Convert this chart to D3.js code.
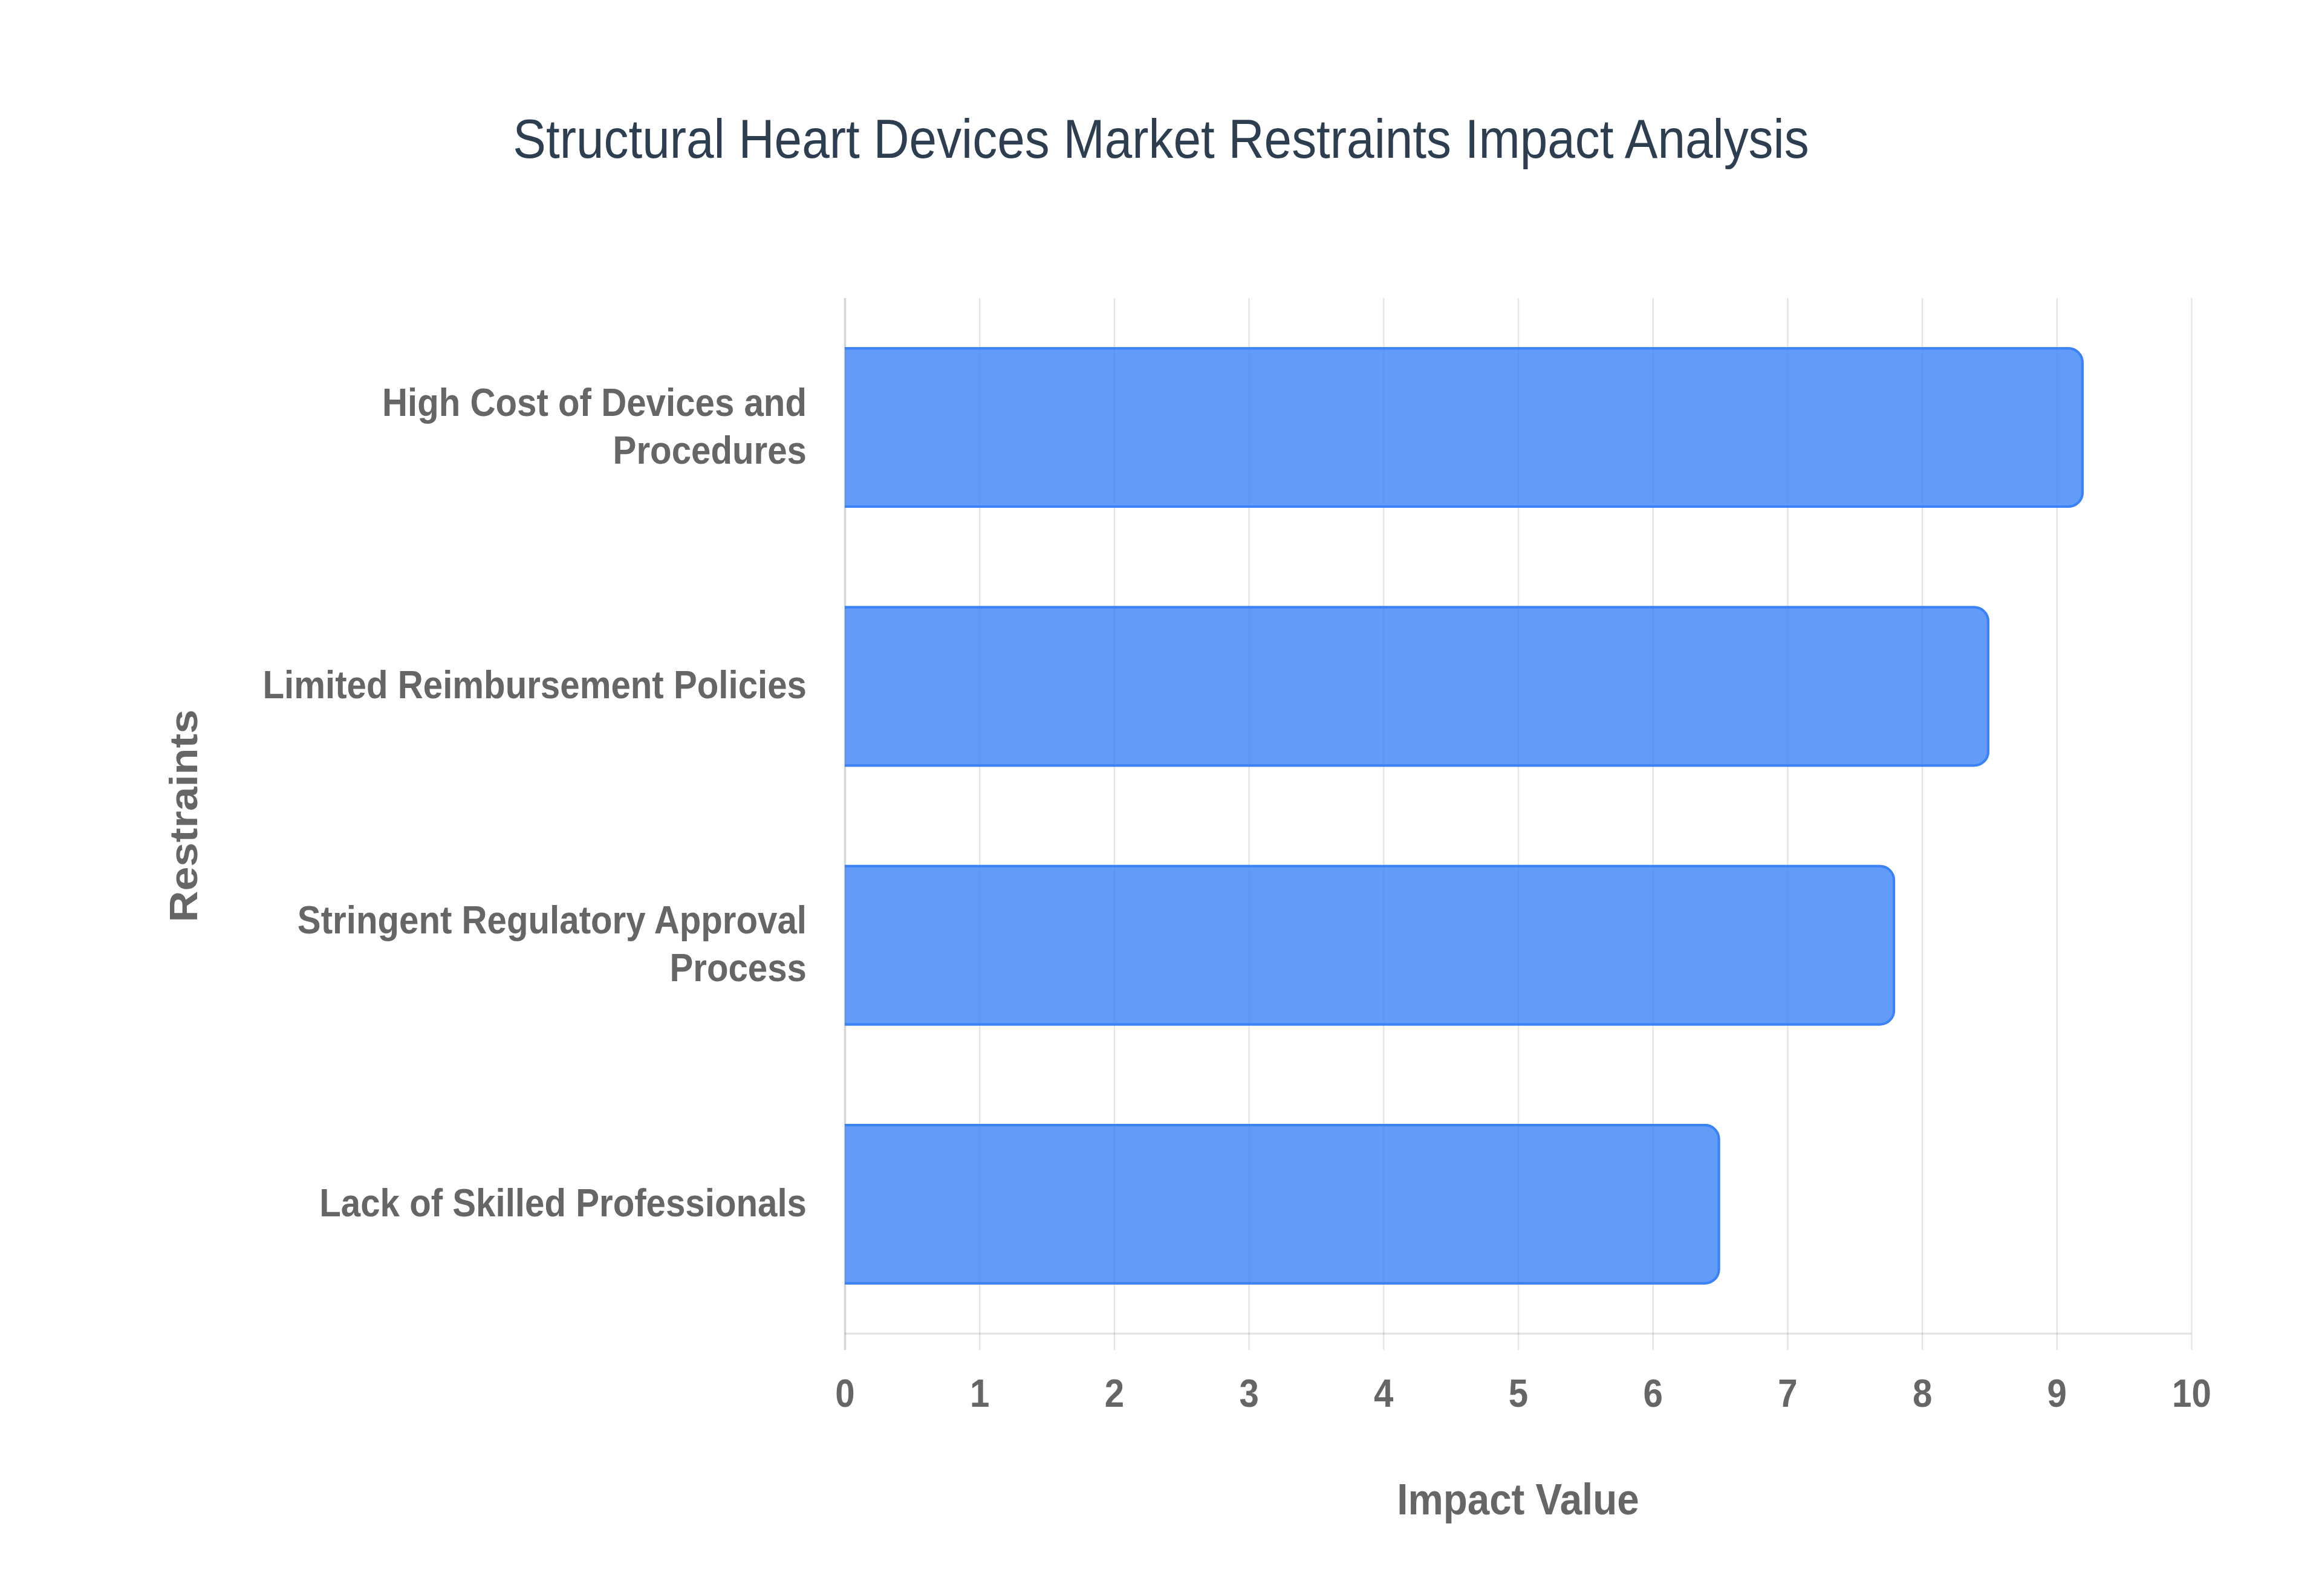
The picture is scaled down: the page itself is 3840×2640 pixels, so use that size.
<!DOCTYPE html>
<html>
<head>
<meta charset="utf-8">
<script src="https://cdn.jsdelivr.net/npm/d3@7"></script>
<style>
  html, body { margin: 0; padding: 0; background: #ffffff; }
  svg { display: block; }
</style>
</head>
<body>
<div id="chart"></div>
<script>
// data
const categories = [
  'High Cost of Devices and Procedures',
  'Limited Reimbursement Policies',
  'Stringent Regulatory Approval Process',
  'Lack of Skilled Professionals'
];
const labelLines = [
  ['High Cost of Devices and', 'Procedures'],
  ['Limited Reimbursement Policies'],
  ['Stringent Regulatory Approval', 'Process'],
  ['Lack of Skilled Professionals']
];
const impactValues = [9.2, 8.5, 7.8, 6.5];
const xTicks = [0, 1, 2, 3, 4, 5, 6, 7, 8, 9, 10];

const chartTitle = 'Structural Heart Devices Market Restraints Impact Analysis';
const xTitle = 'Impact Value';
const yTitle = 'Restraints';

(function () {
  const width = 3840, height = 2640;
  const margin = { top: 493, right: 216, bottom: 434, left: 1397 };
  const plotW = width - margin.left - margin.right,
      plotH = height - margin.top - margin.bottom;
  const squeeze = 0.91;   // the reference text is a little narrow
  const tickLen = 27;
  const font = '"Liberation Sans", Arial, Helvetica, sans-serif';
  const labelColor = '#666666';

  const svg = d3.select('#chart').append('svg')
      .attr('width', width)
      .attr('height', height);
  svg.append('rect').attr('width', width).attr('height', height).attr('fill', '#ffffff');

  const x = d3.scaleLinear().domain([0, 10]).range([0, plotW]);
  const y = d3.scaleBand().domain(categories).range([0, plotH])
      .paddingInner(0.38).paddingOuter(0.19);

  const g = svg.append('g').attr('transform', `translate(${margin.left},${margin.top})`);

  // vertical grid lines (run a bit below the axis like tick marks)
  const grid = g.append('g')
      .attr('transform', `translate(0,${plotH + tickLen})`)
      .call(d3.axisBottom(x).tickValues(xTicks).tickSize(-(plotH + tickLen)).tickSizeOuter(0).tickFormat(''));
  grid.select('.domain').remove();
  grid.selectAll('.tick line')
      .attr('stroke', d => d === 0 ? 'rgba(0,0,0,0.16)' : 'rgba(0,0,0,0.1)')
      .attr('stroke-width', d => d === 0 ? 3.5 : 2.5);

  // bottom axis border
  g.append('line')
      .attr('x1', 0).attr('x2', plotW)
      .attr('y1', plotH).attr('y2', plotH)
      .attr('stroke', 'rgba(0,0,0,0.1)')
      .attr('stroke-width', 3.5);

  // bars: square at the start, rounded on the end, border skipped at the start
  const radius = 25, bw = 4;
  function barShape(x1, y0, y1, r, closed) {
    const p = d3.path();
    p.moveTo(0, y0);
    p.lineTo(x1 - r, y0);
    p.arcTo(x1, y0, x1, y0 + r, r);
    p.lineTo(x1, y1 - r);
    p.arcTo(x1, y1, x1 - r, y1, r);
    p.lineTo(0, y1);
    if (closed) p.closePath();
    return p.toString();
  }

  const bars = g.selectAll('g.bar')
      .data(categories.map((c, i) => ({ cat: c, value: impactValues[i] })))
      .enter().append('g').attr('class', 'bar');

  bars.append('path')
      .attr('d', d => barShape(x(d.value), y(d.cat), y(d.cat) + y.bandwidth(), radius, true))
      .attr('fill', 'rgba(59,130,246,0.8)');

  bars.append('path')
      .attr('d', d => barShape(x(d.value) - bw / 2, y(d.cat) + bw / 2, y(d.cat) + y.bandwidth() - bw / 2, radius - bw / 2, false))
      .attr('fill', 'none')
      .attr('stroke', 'rgb(59,130,246)')
      .attr('stroke-width', bw);

  // x tick labels
  const xAxis = g.append('g')
      .attr('transform', `translate(0,${plotH})`)
      .call(d3.axisBottom(x).tickValues(xTicks).tickSize(0).tickPadding(76).tickFormat(d3.format('d')));
  xAxis.select('.domain').remove();
  xAxis.selectAll('.tick text')
      .attr('font-family', font)
      .attr('font-weight', 'bold')
      .attr('font-size', 64)
      .attr('fill', labelColor)
      .attr('transform', `scale(${squeeze},1)`);

  // category labels, right aligned left of the axis
  const lineH = 79;
  const yLabels = g.selectAll('g.ylabel')
      .data(categories)
      .enter().append('g')
      .attr('class', 'ylabel')
      .attr('transform', d => `translate(-63,${y(d) + y.bandwidth() / 2}) scale(${squeeze},1)`);
  yLabels.each(function (d, i) {
    const lines = labelLines[i];
    const t = d3.select(this).append('text')
        .attr('text-anchor', 'end')
        .attr('font-family', font)
        .attr('font-weight', 'bold')
        .attr('font-size', 64)
        .attr('fill', labelColor);
    lines.forEach((ln, k) => {
      t.append('tspan')
          .attr('x', 0)
          .attr('y', (k - (lines.length - 1) / 2) * lineH + 20)
          .text(ln);
    });
  });

  // chart title
  svg.append('text')
      .attr('transform', `translate(${width / 2},261) scale(${squeeze},1)`)
      .attr('text-anchor', 'middle')
      .attr('font-family', font)
      .attr('font-size', 90)
      .attr('fill', '#2c3e50')
      .text(chartTitle);

  // axis titles
  svg.append('text')
      .attr('transform', `translate(${margin.left + plotW / 2},2505) scale(${squeeze},1)`)
      .attr('text-anchor', 'middle')
      .attr('font-family', font)
      .attr('font-weight', 'bold')
      .attr('font-size', 72)
      .attr('fill', labelColor)
      .text(xTitle);

  svg.append('text')
      .attr('transform', `translate(302,${margin.top + plotH / 2}) scale(${squeeze},1) rotate(-90)`)
      .attr('text-anchor', 'middle')
      .attr('dy', '0.36em')
      .attr('font-family', font)
      .attr('font-weight', 'bold')
      .attr('font-size', 72)
      .attr('fill', labelColor)
      .text(yTitle);
})();
</script>
</body>
</html>
